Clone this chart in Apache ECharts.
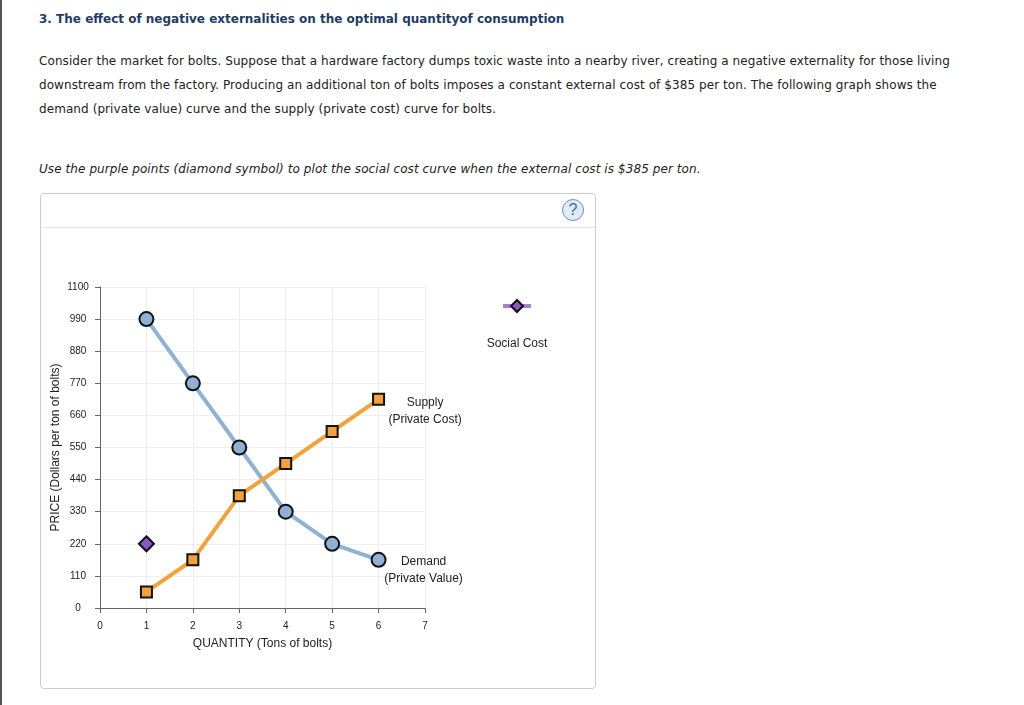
<!DOCTYPE html>
<html><head><meta charset="utf-8">
<script src="https://cdn.jsdelivr.net/npm/echarts@6/dist/echarts.min.js"></script>
<style>
html,body{margin:0;padding:0;background:#fff;}
body{width:1024px;height:705px;position:relative;overflow:hidden;font-family:"DejaVu Sans",Verdana,sans-serif;}
#lborder{position:absolute;left:0;top:0;width:2px;height:705px;background:#555;}
#title{position:absolute;left:39px;top:12px;font-size:12px;font-weight:bold;color:#1d3c69;white-space:nowrap;}
#para{position:absolute;left:39px;top:49px;font-size:12px;line-height:24px;color:#222;width:930px;letter-spacing:0.08px;}
#inst{position:absolute;left:39px;top:162px;font-size:12px;font-style:italic;color:#222;white-space:nowrap;letter-spacing:0.08px;}
#box{position:absolute;left:40px;top:193px;width:554px;height:494px;border:1px solid #ccc;border-radius:4px;}
#sep{position:absolute;left:0;top:33px;width:554px;height:1px;background:#e3e3e3;}
#help{position:absolute;left:521px;top:5px;width:20px;height:20px;border-radius:50%;border:1.5px solid #6c90c2;background:#e0ebf6;color:#3d6aa6;font-family:"Liberation Sans",Arial,sans-serif;font-size:16px;line-height:20px;text-align:center;}
#chart{position:absolute;left:40px;top:228px;width:554px;height:459px;}
</style></head>
<body>
<div id="lborder"></div>
<div id="title">3. The effect of negative externalities on the optimal quantityof consumption</div>
<div id="para">Consider the market for bolts. Suppose that a hardware factory dumps toxic waste into a nearby river, creating a negative externality for those living downstream from the factory. Producing an additional ton of bolts imposes a constant external cost of $385 per ton. The following graph shows the demand (private value) curve and the supply (private cost) curve for bolts.</div>
<div id="inst">Use the purple points (diamond symbol) to plot the social cost curve when the external cost is $385 per ton.</div>
<div id="box"><div id="sep"></div><div id="help">?</div></div>
<div id="chart"></div>
<script>
const quantities = [1, 2, 3, 4, 5, 6];
const demandValues = [990, 770, 550, 330, 220, 165];
const supplyValues = [55, 165, 385, 495, 605, 715];
const socialCostQuantities = [1];
const socialCostValues = [220];
const yTicks = [0, 110, 220, 330, 440, 550, 660, 770, 880, 990, 1100];
const xTicks = [0, 1, 2, 3, 4, 5, 6, 7];
const demandLabel = ['Demand', '(Private Value)'];
const supplyLabel = ['Supply', '(Private Cost)'];
const socialLabel = 'Social Cost';

const FONT = '"Liberation Sans", Arial, sans-serif';
function pairs(xs, ys, lastLabel) {
  return xs.map((x, i) => {
    const d = { value: [x, ys[i]] };
    if (lastLabel && i === xs.length - 1) {
      d.label = {
        show: true, formatter: lastLabel.join('\n'),
        position: [53, 1], align: 'center', verticalAlign: 'top',
        color: '#222', fontSize: 12, lineHeight: 17, fontFamily: FONT
      };
    }
    return d;
  });
}
const chart = echarts.init(document.getElementById('chart'));
chart.setOption({
  animation: false,
  grid: { left: 60, top: 59, width: 325, height: 321, containLabel: false, outerBoundsMode: 'none' },
  xAxis: {
    type: 'value', min: xTicks[0], max: xTicks[xTicks.length - 1], interval: 1,
    name: 'QUANTITY (Tons of bolts)', nameLocation: 'middle', nameGap: 30,
    nameTextStyle: { fontFamily: FONT, fontSize: 12, color: '#222' },
    axisLine: { show: true, lineStyle: { color: '#666', width: 1 } },
    axisTick: { show: true, length: 5, lineStyle: { color: '#666' } },
    axisLabel: { fontFamily: FONT, fontSize: 10, color: '#222', margin: 13 },
    splitLine: { show: true, lineStyle: { color: '#eeeeee' } }
  },
  yAxis: {
    type: 'value', min: yTicks[0], max: yTicks[yTicks.length - 1], interval: 110,
    name: 'PRICE (Dollars per ton of bolts)', nameLocation: 'middle', nameGap: 38, nameMoveOverlap: false,
    nameTextStyle: { fontFamily: FONT, fontSize: 12, color: '#222' },
    axisLine: { show: true, lineStyle: { color: '#666', width: 1 } },
    axisTick: { show: true, length: 5, lineStyle: { color: '#666' } },
    axisLabel: { fontFamily: FONT, fontSize: 10, color: '#222', margin: 22, align: 'center', formatter: v => String(v) },
    splitLine: { show: true, lineStyle: { color: '#eeeeee' } }
  },
  series: [
    {
      name: 'Demand', type: 'line', data: pairs(quantities, demandValues, demandLabel),
      symbol: 'circle', symbolSize: 14,
      lineStyle: { color: '#8eb1d6', width: 4 },
      itemStyle: { color: '#8eb1d6', borderColor: '#111', borderWidth: 2 },
      z: 3
    },
    {
      name: 'Supply', type: 'line', data: pairs(quantities, supplyValues, supplyLabel),
      symbol: 'rect', symbolSize: 11,
      lineStyle: { color: '#f4a13a', width: 4 },
      itemStyle: { color: '#f4a13a', borderColor: '#111', borderWidth: 2 },
      z: 4
    },
    {
      name: socialLabel, type: 'line', data: pairs(socialCostQuantities, socialCostValues, null),
      symbol: 'diamond', symbolSize: 15,
      lineStyle: { color: '#a77fd6', width: 4 },
      itemStyle: { color: '#8c55c8', borderColor: '#111', borderWidth: 2 },
      z: 5
    }
  ],
  graphic: [
    { type: 'line', shape: { x1: 463, y1: 78, x2: 491, y2: 78 }, style: { stroke: '#a77fd6', lineWidth: 4 } },
    { type: 'polygon', shape: { points: [[477, 72], [483, 78], [477, 84], [471, 78]] }, style: { fill: '#8c55c8', stroke: '#111', lineWidth: 2 } },
    { type: 'text', x: 477, y: 116, style: { text: socialLabel, font: '12px ' + FONT, fill: '#222', align: 'center', verticalAlign: 'middle' } }
  ]
});
</script>
</body></html>
